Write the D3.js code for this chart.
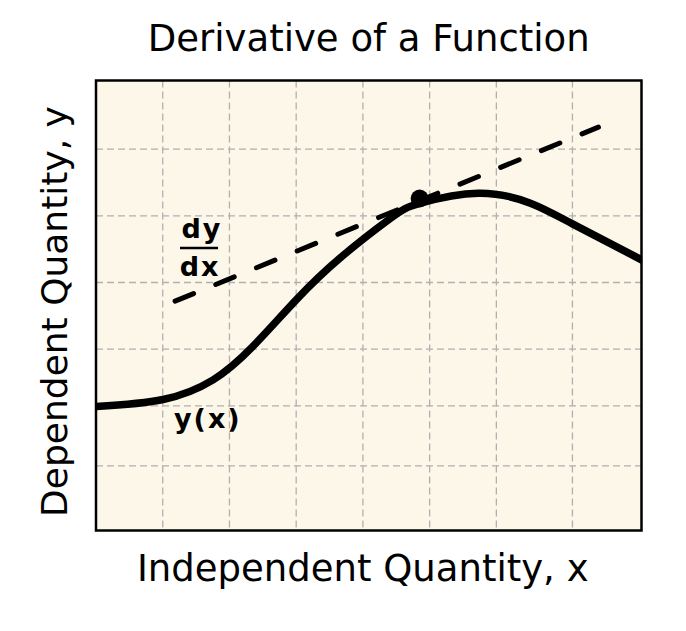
<!DOCTYPE html>
<html>
<head>
<meta charset="utf-8">
<script src="https://cdn.jsdelivr.net/npm/d3@7"></script>
<style>
  body { margin: 0; background: #fff; }
  text { font-family: "DejaVu Sans", Verdana, sans-serif; }
</style>
</head>
<body>
<svg></svg>
<script>
// ### data ###
var curveX = [0, 1.005, 1.755, 2.34, 3.0, 3.66, 4.41, 4.86, 5.73, 6.51, 7.14, 8.175];
var curveY = [1.86, 1.965, 2.26, 2.75, 3.46, 4.09, 4.68, 4.91, 5.06, 4.91, 4.60, 4.06];
var tangentX = [1.185, 7.53];
var tangentY = [3.44, 6.05];
var pointX = [4.85];
var pointY = [4.98];
var gridX = [1, 2, 3, 4, 5, 6, 7.14];
var gridY = [0.97, 1.87, 2.72, 3.72, 4.72, 5.72];

// ### canvas ###
var W = 686, H = 631;
var margin = {top: 80.5, right: 44.5, bottom: 100.5, left: 96};
var width = W - margin.left - margin.right;
var height = H - margin.top - margin.bottom;

var svg = d3.select('svg')
    .attr('width', W)
    .attr('height', H);

var g = svg.append('g')
    .attr('transform', `translate(${margin.left},${margin.top})`);

// ### scales ###
var xScale = d3.scaleLinear().domain([0, 8.175]).range([0, width]);
var yScale = d3.scaleLinear().domain([0, 6.75]).range([height, 0]);

g.append('clipPath').attr('id', 'plot')
  .append('rect').attr('width', width).attr('height', height);

g.append('rect')
    .attr('width', width)
    .attr('height', height)
    .attr('fill', '#fdf7e9');

// ### grid ###
g.selectAll('.gx')
  .data(gridX)
  .enter()
  .append('line')
    .attr('x1', d => xScale(d)).attr('x2', d => xScale(d))
    .attr('y1', 0).attr('y2', height)
    .attr('stroke', '#b0b0b0')
    .attr('stroke-width', 1.3)
    .attr('stroke-dasharray', '7,4');

g.selectAll('.gy')
  .data(gridY)
  .enter()
  .append('line')
    .attr('y1', d => yScale(d)).attr('y2', d => yScale(d))
    .attr('x1', 0).attr('x2', width)
    .attr('stroke', '#b0b0b0')
    .attr('stroke-width', 1.3)
    .attr('stroke-dasharray', '7,4');

var plot = g.append('g').attr('clip-path', 'url(#plot)');

// ### tangent line ###
var tangent = d3.zip(tangentX, tangentY);
plot.append('path')
    .datum(tangent)
    .attr('d', d3.line().x(d => xScale(d[0])).y(d => yScale(d[1])))
    .attr('fill', 'none')
    .attr('stroke', '#000')
    .attr('stroke-width', 5)
    .attr('stroke-linecap', 'round')
    .attr('stroke-dasharray', '20,24');

// ### the function ###
var curve = d3.zip(curveX, curveY);
plot.append('path')
    .datum(curve)
    .attr('d', d3.line()
        .x(d => xScale(d[0]))
        .y(d => yScale(d[1]))
        .curve(d3.curveNatural))
    .attr('fill', 'none')
    .attr('stroke', '#000')
    .attr('stroke-width', 7.5)
    .attr('stroke-linecap', 'round');

// ### tangent point ###
g.selectAll('.pt')
  .data(d3.zip(pointX, pointY))
  .enter()
  .append('circle')
    .attr('cx', d => xScale(d[0]))
    .attr('cy', d => yScale(d[1]))
    .attr('r', 9)
    .attr('fill', '#000');

// ### frame ###
g.append('rect')
    .attr('width', width)
    .attr('height', height)
    .attr('fill', 'none')
    .attr('stroke', '#000')
    .attr('stroke-width', 2.5);

// ### labels on the plot ###
g.append('text')
    .attr('x', 202 - margin.left).attr('y', 238 - margin.top)
    .attr('text-anchor', 'middle')
    .attr('font-size', 27).attr('font-weight', 'bold')
    .attr('letter-spacing', 2)
    .text('dy');
g.append('line')
    .attr('x1', 180 - margin.left).attr('x2', 218 - margin.left)
    .attr('y1', 248 - margin.top).attr('y2', 248 - margin.top)
    .attr('stroke', '#000').attr('stroke-width', 2.5);
g.append('text')
    .attr('x', 200 - margin.left).attr('y', 276 - margin.top)
    .attr('text-anchor', 'middle')
    .attr('font-size', 27).attr('font-weight', 'bold')
    .attr('letter-spacing', 2)
    .text('dx');
g.append('text')
    .attr('x', 174 - margin.left).attr('y', 428 - margin.top)
    .attr('font-size', 27).attr('font-weight', 'bold')
    .attr('letter-spacing', 2)
    .text('y(x)');

// ### titles ###
svg.append('text')
    .attr('x', margin.left + width / 2).attr('y', 51)
    .attr('text-anchor', 'middle')
    .attr('font-size', 37)
    .text('Derivative of a Function');

svg.append('text')
    .attr('x', margin.left + width / 2 - 6).attr('y', 581)
    .attr('text-anchor', 'middle')
    .attr('font-size', 37)
    .text('Independent Quantity, x');

svg.append('text')
    .attr('transform', `translate(67,${margin.top + height / 2 + 6}) rotate(-90)`)
    .attr('text-anchor', 'middle')
    .attr('font-size', 36)
    .text('Dependent Quantity, y');
</script>
</body>
</html>
